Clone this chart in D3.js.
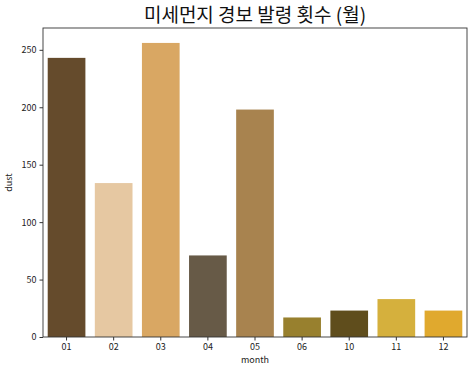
<!DOCTYPE html>
<html><head><meta charset="utf-8">
<script src="https://cdn.jsdelivr.net/npm/d3@7"></script>
<style>body{margin:0;background:#fff}svg{display:block}</style>
</head><body>
<script>
const months = ["01","02","03","04","05","06","10","11","12"];
const dust = [243, 134, 256, 71, 198, 17, 23, 33, 23];
const colors = ["#654b2c","#e6c8a2","#d9a763","#675a47","#a8834f","#98802e","#5f4d1c","#d5b03d","#e0a92e"];
const yTicks = [0,50,100,150,200,250];
const title = "미세먼지 경보 발령 횟수 (월)";

const W=474,H=372, m={l:43,r:7,t:28,b:35};
const svg=d3.select("body").append("svg").attr("width",W).attr("height",H);
const x=d3.scaleBand().domain(months).range([m.l,W-m.r]).paddingInner(0.2).paddingOuter(0.1);
const y=d3.scaleLinear().domain([0,269]).range([H-m.b,m.t]);
const font="'Noto Sans CJK KR','Noto Sans',sans-serif";

svg.selectAll("rect.bar").data(months).enter().append("rect")
 .attr("x",d=>x(d)).attr("width",x.bandwidth())
 .attr("y",(d,i)=>y(dust[i])).attr("height",(d,i)=>y(0)-y(dust[i]))
 .attr("fill",(d,i)=>colors[i]);

svg.append("rect").attr("x",m.l).attr("y",m.t).attr("width",W-m.l-m.r).attr("height",H-m.t-m.b)
 .attr("fill","none").attr("stroke","#333").attr("stroke-width",0.9);

const gx=svg.append("g").attr("transform",`translate(0,${H-m.b})`).call(d3.axisBottom(x).tickSize(3.5).tickPadding(3));
const gy=svg.append("g").attr("transform",`translate(${m.l},0)`).call(d3.axisLeft(y).tickValues(yTicks).tickSize(3.5).tickPadding(3));
[gx,gy].forEach(g=>{g.select(".domain").remove();g.selectAll("line").attr("stroke","#333");
 g.selectAll("text").attr("font-family",font).attr("font-size",9).attr("fill","#222");});

svg.append("text").attr("x",(m.l+W-m.r)/2).attr("y",22).attr("text-anchor","middle")
 .attr("font-family",font).attr("font-size",19).attr("fill","#111").text(title);
svg.append("text").attr("x",(m.l+W-m.r)/2).attr("y",363).attr("text-anchor","middle")
 .attr("font-family",font).attr("font-size",9).attr("fill","#222").text("month");
svg.append("text").attr("transform",`translate(12,${(m.t+H-m.b)/2}) rotate(-90)`).attr("text-anchor","middle")
 .attr("font-family",font).attr("font-size",9).attr("fill","#222").text("dust");
</script>
</body></html>
